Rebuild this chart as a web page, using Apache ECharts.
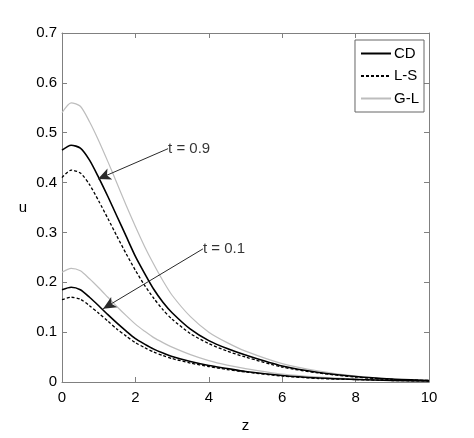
<!DOCTYPE html>
<html>
<head>
<meta charset="utf-8">
<script src="https://cdn.jsdelivr.net/npm/echarts@6/dist/echarts.min.js"></script>
<style>
  html, body { margin: 0; padding: 0; background: #fff; }
  #chart { width: 474px; height: 438px; }
</style>
</head>
<body>
<div id="chart"></div>
<script>
const zValues = [0, 0.25, 0.5, 0.75, 1, 1.25, 1.5, 1.75, 2, 2.25, 2.5, 2.75, 3, 3.5, 4, 4.5, 5, 6, 7, 8, 9, 10];

// t = 0.9
const cd09 = [0.465, 0.475, 0.469, 0.445, 0.41, 0.372, 0.332, 0.292, 0.252, 0.218, 0.186, 0.16, 0.139, 0.106, 0.083, 0.067, 0.054, 0.032, 0.019, 0.011, 0.006, 0.003];
const ls09 = [0.41, 0.425, 0.419, 0.396, 0.363, 0.328, 0.292, 0.257, 0.224, 0.194, 0.168, 0.145, 0.126, 0.097, 0.077, 0.062, 0.05, 0.03, 0.018, 0.01, 0.005, 0.003];
const gl09 = [0.54, 0.56, 0.553, 0.522, 0.484, 0.442, 0.398, 0.354, 0.312, 0.272, 0.236, 0.203, 0.174, 0.131, 0.1, 0.079, 0.062, 0.037, 0.022, 0.012, 0.006, 0.003];

// t = 0.1
const cd01 = [0.185, 0.19, 0.185, 0.17, 0.153, 0.135, 0.118, 0.102, 0.087, 0.076, 0.066, 0.058, 0.051, 0.041, 0.033, 0.027, 0.021, 0.013, 0.008, 0.005, 0.003, 0.002];
const ls01 = [0.165, 0.17, 0.166, 0.153, 0.138, 0.122, 0.106, 0.092, 0.079, 0.069, 0.06, 0.053, 0.047, 0.038, 0.031, 0.025, 0.02, 0.012, 0.007, 0.005, 0.003, 0.002];
const gl01 = [0.22, 0.228, 0.223, 0.207, 0.189, 0.17, 0.151, 0.133, 0.116, 0.102, 0.089, 0.079, 0.07, 0.055, 0.043, 0.034, 0.027, 0.016, 0.01, 0.006, 0.004, 0.002];

const methods = ["CD", "L-S", "G-L"];
const xTicks = [0, 2, 4, 6, 8, 10];

// annotation arrows: [text position, arrow tip]
const arrow09 = [[2.89, 0.468], [0.98, 0.407]];
const arrow01 = [[3.84, 0.267], [1.12, 0.147]];

const font = "'Liberation Sans Narrow', 'Liberation Sans', Arial, sans-serif";
const frameColor = "#808080";

function pairs(ys) {
  return zValues.map((z, i) => [z, ys[i]]);
}

const styles = {
  "CD": { color: "#000000", width: 1.6, type: "solid", join: "round" },
  "L-S": { color: "#000000", width: 1.3, type: [3, 2], join: "round" },
  "G-L": { color: "#bdbdbd", width: 1.2, type: "solid", join: "round" }
};

function lineSeries(name, ys) {
  return {
    name: name,
    type: "line",
    data: pairs(ys),
    smooth: 0.25,
    symbol: "none",
    xAxisIndex: 0,
    yAxisIndex: 0,
    lineStyle: styles[name],
    itemStyle: { color: styles[name].color },
    silent: true,
    z: name === "G-L" ? 2 : 3
  };
}

const chart = echarts.init(document.getElementById("chart"));

const baseAxisX = {
  type: "value",
  min: 0,
  max: 10,
  interval: 2,
  splitLine: { show: false },
  axisLine: { show: true, onZero: false, lineStyle: { color: frameColor, width: 1 } },
  axisTick: { show: true, inside: true, length: 5, lineStyle: { color: frameColor } }
};
const baseAxisY = {
  type: "value",
  min: 0,
  max: 0.7,
  interval: 0.1,
  splitLine: { show: false },
  axisLine: { show: true, onZero: false, lineStyle: { color: frameColor, width: 1 } },
  axisTick: { show: true, inside: true, length: 5, lineStyle: { color: frameColor } }
};

const option = {
  backgroundColor: "#ffffff",
  animation: false,
  grid: { left: 62, top: 33, right: 45, bottom: 49 },
  legend: {
    data: methods,
    orient: "vertical",
    right: 50,
    top: 40,
    align: "left",
    itemWidth: 30,
    itemHeight: 14,
    itemGap: 7.5,
    padding: [6, 5, 6, 5],
    backgroundColor: "#ffffff",
    borderColor: "#666666",
    borderWidth: 1,
    borderRadius: 0,
    // hide the default marker dot, keep only the line sample
    itemStyle: { color: "rgba(0,0,0,0)", borderWidth: 0 },
    textStyle: { fontFamily: font, fontSize: 15, color: "#000", padding: [0, 0, 0, -2] }
  },
  xAxis: [
    Object.assign({}, baseAxisX, {
      position: "bottom",
      name: "z",
      nameLocation: "middle",
      nameGap: 36,
      nameTextStyle: { fontFamily: font, fontSize: 15, color: "#000" },
      axisLabel: {
        fontFamily: font, fontSize: 15, color: "#000", margin: 8,
        formatter: v => (xTicks.includes(v) ? String(v) : "")
      }
    }),
    Object.assign({}, baseAxisX, { position: "top", axisLabel: { show: false } })
  ],
  yAxis: [
    Object.assign({}, baseAxisY, {
      position: "left",
      name: "u",
      nameLocation: "middle",
      nameGap: 35,
      nameRotate: 0,
      nameTextStyle: { fontFamily: font, fontSize: 15, color: "#000" },
      axisLabel: {
        fontFamily: font, fontSize: 15, color: "#000", margin: 5,
        formatter: v => (v === 0 ? "0" : v.toFixed(1))
      }
    }),
    Object.assign({}, baseAxisY, { position: "right", axisLabel: { show: false } })
  ],
  series: [
    lineSeries("G-L", gl09),
    lineSeries("G-L", gl01),
    lineSeries("L-S", ls09),
    lineSeries("L-S", ls01),
    lineSeries("CD", cd09),
    lineSeries("CD", cd01),
    {
      // arrows + labels for t values
      name: "annot",
      type: "scatter",
      symbolSize: 0,
      silent: true,
      data: [
        { value: arrow09[0], label: { formatter: "t = 0.9" } },
        { value: arrow01[0], label: { formatter: "t = 0.1" } }
      ],
      label: {
        show: true,
        position: "right",
        distance: 0,
        fontFamily: font,
        fontSize: 15,
        color: "#000"
      },
      markLine: {
        silent: true,
        symbol: ["none", "arrow"],
        symbolSize: [9, 13],
        label: { show: false },
        lineStyle: { color: "#2a2a2a", width: 1, type: "solid" },
        emphasis: { disabled: true },
        data: [
          [{ coord: arrow09[0] }, { coord: arrow09[1] }],
          [{ coord: arrow01[0] }, { coord: arrow01[1] }]
        ]
      },
      z: 5
    }
  ]
};

chart.setOption(option);
</script>
</body>
</html>
